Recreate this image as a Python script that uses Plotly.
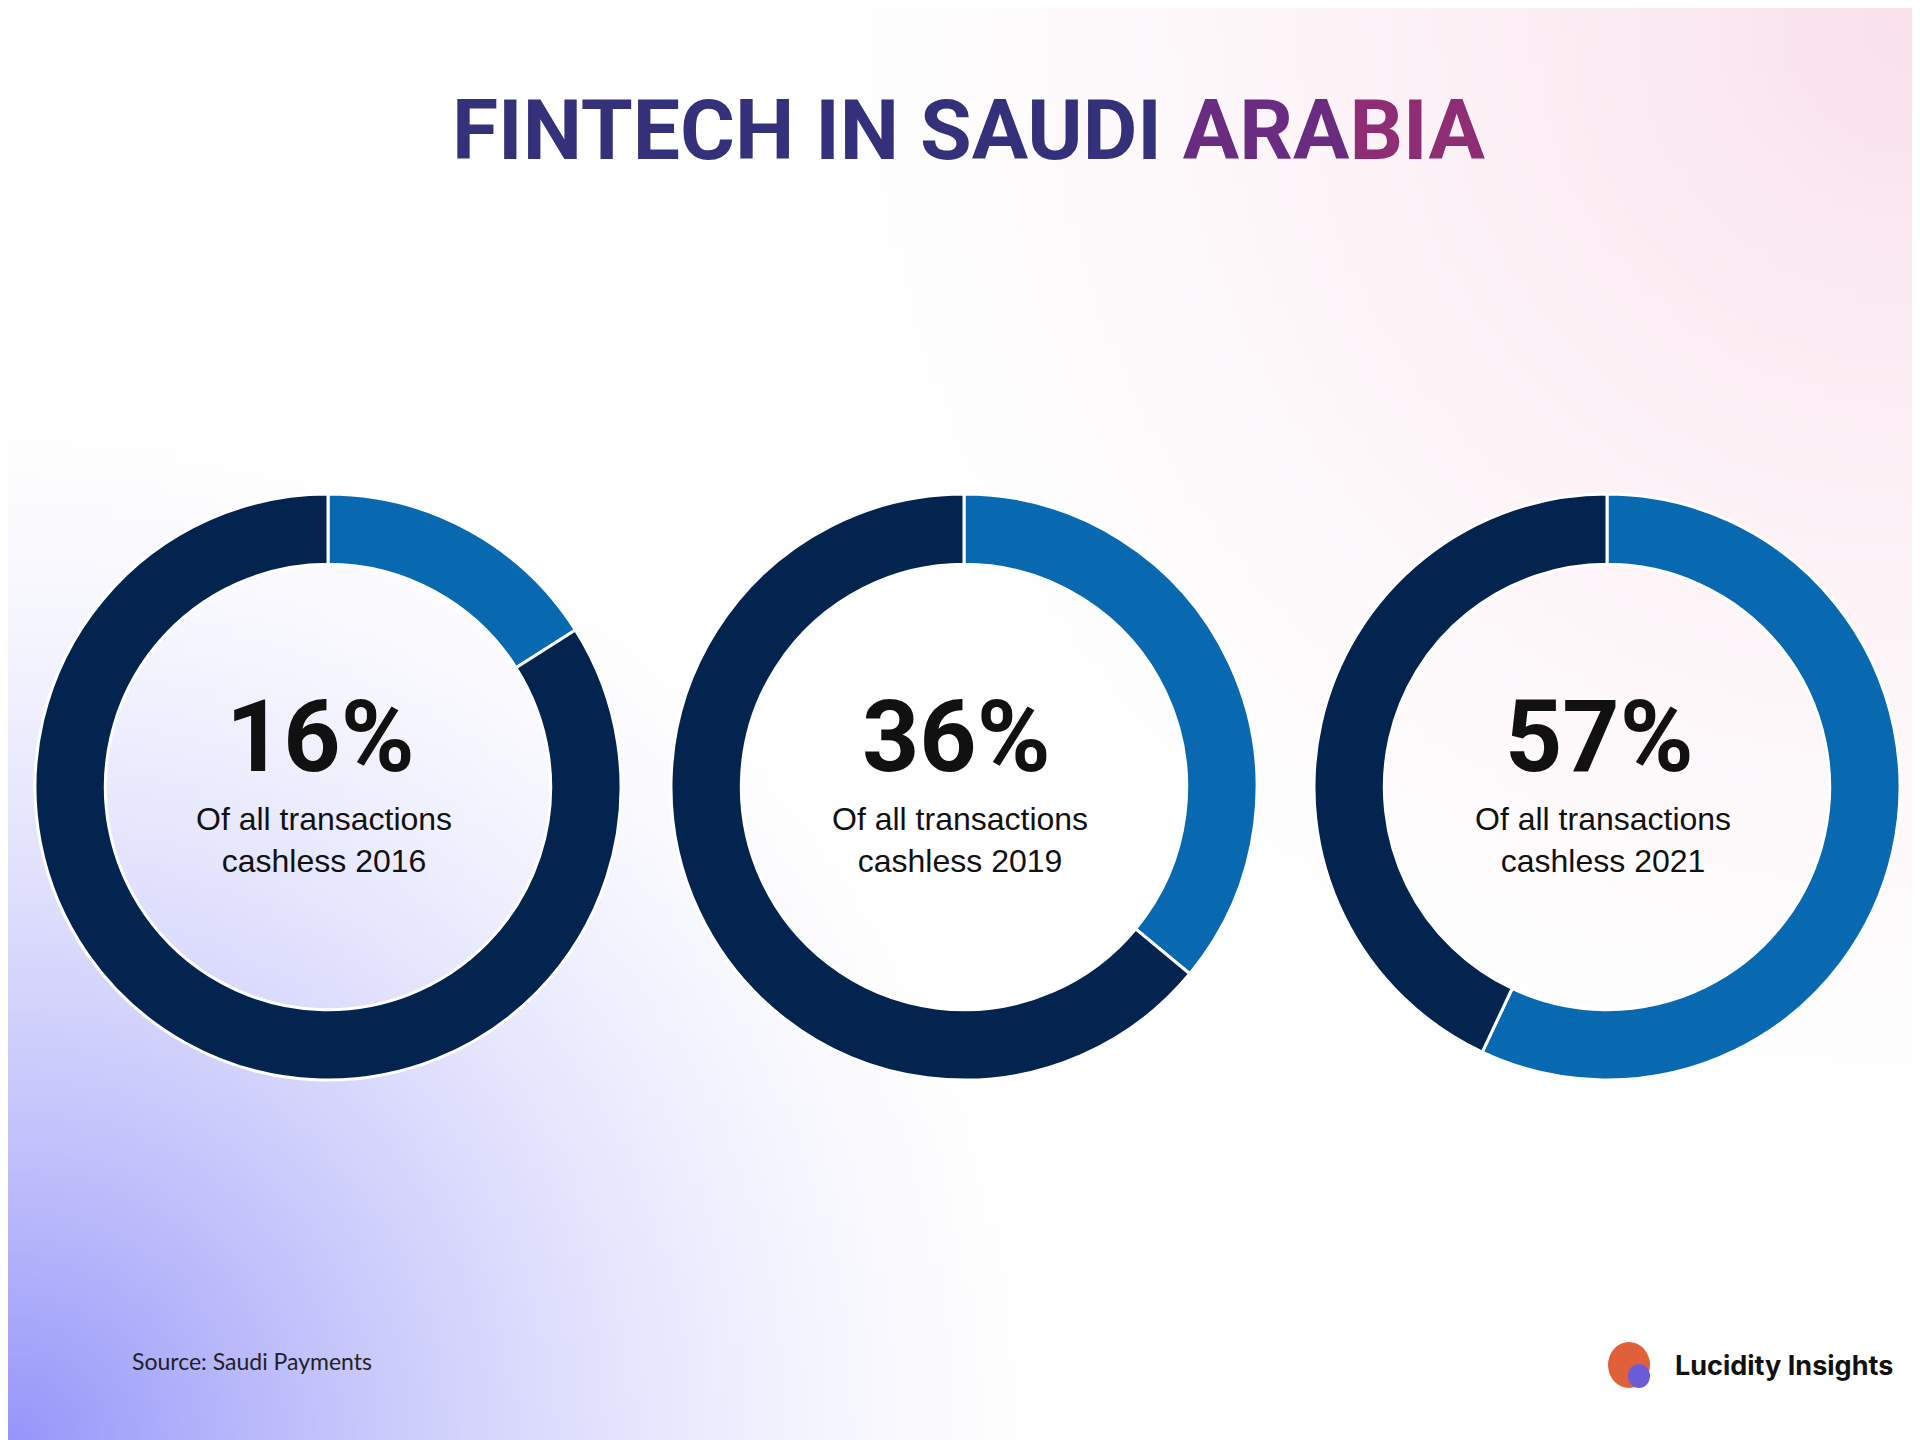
import base64
import struct
import zlib

import numpy as np
import plotly.graph_objects as go

years = ["2016", "2019", "2021"]
cashless = [16, 36, 57]
labels = ["Cashless", "Other"]
colors = ["#0868B0", "#02244F"]

W, H = 1920, 1440
NARROW = "Liberation Sans Narrow, Roboto, Liberation Sans"


def gradient_png(w=192, h=144):
    # soft background: purple bottom-left, pink top-right, white elsewhere
    ys, xs = np.mgrid[0:h, 0:w]
    u = xs / (w - 1)
    v = ys / (h - 1)
    img = np.ones((h, w, 3)) * 255.0
    d1 = np.clip(1 - np.hypot(u, (1 - v) * 0.75) / 0.55, 0, 1) ** 1.6
    purple = np.array([150, 150, 250])
    d2 = np.clip(1 - np.hypot(1 - u, v * 0.75) / 0.6, 0, 1) ** 1.4
    pink = np.array([250, 225, 236])
    img = img * (1 - d2[..., None]) + pink * d2[..., None]
    img = img * (1 - d1[..., None]) + purple * d1[..., None]
    img = img.astype(np.uint8)
    raw = b"".join(b"\x00" + img[r].tobytes() for r in range(h))

    def chunk(t, d):
        c = struct.pack(">I", len(d)) + t + d
        return c + struct.pack(">I", zlib.crc32(t + d) & 0xffffffff)

    png = b"\x89PNG\r\n\x1a\n" + chunk(b"IHDR", struct.pack(">IIBBBBB", w, h, 8, 2, 0, 0, 0))
    png += chunk(b"IDAT", zlib.compress(raw)) + chunk(b"IEND", b"")
    return "data:image/png;base64," + base64.b64encode(png).decode()


def note(x, y, text, font, xanchor="center"):
    fig.add_annotation(x=x / W, y=(H - y) / H, xref="paper", yref="paper", showarrow=False,
                       xanchor=xanchor, yanchor="middle", text=text, font=font)


fig = go.Figure()

centers = [320, 956, 1599]
cy = 779
r = 293
for i, (yr, val) in enumerate(zip(years, cashless)):
    cx = centers[i]
    fig.add_trace(go.Pie(
        labels=labels, values=[val, 100 - val], hole=0.76, sort=False,
        direction="clockwise", rotation=0,
        marker=dict(colors=colors, line=dict(color="white", width=3)),
        textinfo="none", hoverinfo="label+value", showlegend=False,
        domain=dict(x=[(cx - r) / W, (cx + r) / W], y=[(H - cy - r) / H, (H - cy + r) / H]),
    ))
    note(cx - 8, 728, f"<b>{val}%</b>", dict(family=NARROW, size=100, color="#111111"))
    note(cx - 4, 832, f"Of all transactions<br>cashless {yr}",
         dict(family="Liberation Sans", size=32, color="#111111"))

note(960, 122, "<b><span style='color:#35307A'>FINTECH IN SAUDI </span>"
     "<span style='color:#6A2C80'>ARA</span><span style='color:#8E2D73'>BIA</span></b>",
     dict(family=NARROW, size=84))
note(122, 1353, "Source: Saudi Payments", dict(family="Lato", size=23, color="#222222"), "left")
note(1665, 1357, "<b>Lucidity Insights</b>", dict(family="Inter", size=27, color="#111111"), "left")

fig.add_shape(type="circle", xref="paper", yref="paper",
              x0=1600 / W, x1=1642 / W, y0=(H - 1380) / H, y1=(H - 1334) / H,
              fillcolor="#E0603A", line=dict(width=0))
fig.add_shape(type="circle", xref="paper", yref="paper",
              x0=1620 / W, x1=1642 / W, y0=(H - 1380) / H, y1=(H - 1356) / H,
              fillcolor="#6B5BD6", line=dict(width=0))

fig.add_layout_image(source=gradient_png(), xref="paper", yref="paper", x=0, y=1,
                     sizex=1, sizey=1, sizing="stretch", layer="below")

fig.update_layout(width=W, height=H, margin=dict(l=0, r=0, t=0, b=0),
                  paper_bgcolor="white", plot_bgcolor="white")

fig.write_html("out.html")
